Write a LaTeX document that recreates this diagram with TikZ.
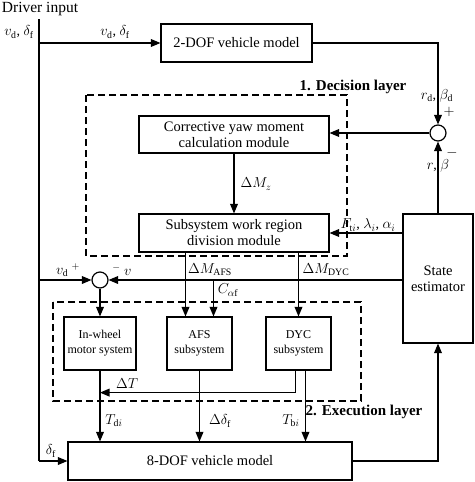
\documentclass[tikz,border=0pt]{standalone}
\usepackage{fontspec}
\setmainfont{Liberation Serif}
\usepackage{tikz}
\usetikzlibrary{arrows}
\usepackage{amsmath}

\begin{document}
\begin{tikzpicture}[x=1pt,y=-1pt,>=triangle 45,line width=1.2pt,
                    font=\fontsize{14}{16}\selectfont]
  \tikzstyle{block}=[draw,rectangle,align=center,inner sep=1pt,
                     font=\fontsize{14.5}{16}\selectfont]
  \tikzstyle{subblock}=[block,font=\fontsize{12}{15}\selectfont]
  \tikzstyle{sum}=[draw,circle,minimum size=16pt,inner sep=0pt]
  \tikzstyle{layer}=[dashed,dash pattern=on 7pt off 4pt,line width=1.3pt]
  \tikzstyle{lbl}=[inner sep=1pt]
  \useasboundingbox (0,0) rectangle (474,482);

  % blocks
  \node[block,minimum width=151pt,minimum height=38pt] (twodof) at (236.5,43) {2-DOF vehicle model};
  \node[block,minimum width=190pt,minimum height=37pt] (corr) at (234,134.5) {Corrective yaw moment\\calculation module};
  \node[block,minimum width=190pt,minimum height=38pt] (subsys) at (234,233) {Subsystem work region\\division module};
  \node[block,minimum width=70pt,minimum height=129pt] (state) at (438,278.5) {State\\estimator};
  \node[subblock,minimum width=72pt,minimum height=53pt] (inwheel) at (100,343.5) {In-wheel\\motor system};
  \node[subblock,minimum width=65pt,minimum height=53pt] (afs) at (199.5,343.5) {AFS\\subsystem};
  \node[subblock,minimum width=65pt,minimum height=53pt] (dyc) at (298.5,343.5) {DYC\\subsystem};
  \node[block,minimum width=284pt,minimum height=38pt] (eightdof) at (210,461) {8-DOF vehicle model};
  \node[sum] (sum1) at (438,133) {};
  \node[sum] (sum2) at (100,280) {};

  % layers
  \draw[layer] (86,95) rectangle (347,256);
  \draw[layer] (53,302) rectangle (361,401);
  \node[font=\bfseries\fontsize{15}{17}\selectfont] (declayer) at (353,87) {1. Decision layer};
  \node[font=\bfseries\fontsize{15}{17}\selectfont] (exelayer) at (364,412) {2. Execution layer};

  % driver input
  \node[inner sep=0pt,font=\fontsize{15.5}{18}\selectfont] (driver) at (40,9) {Driver input};
  \coordinate (drv) at (39,19);
  \coordinate (drvb) at (39,461);
  \draw (drv) -- (drvb);
  \draw[->] (drvb) -- (eightdof.west);
  \draw[->] (drv |- twodof.west) -- (twodof.west);
  \draw[->] (drv |- sum2) -- (sum2.west);

  % decision layer connections
  \draw[->] (twodof.east) -| (sum1.north);
  \draw[->] (sum1.west) -- (sum1.west -| corr.east);
  \draw[->] (state.north -| sum1) -- (sum1.south);
  \draw[->] (corr.south) -- (subsys.north);
  \draw[->] (subsys.east -| state.west) -- (subsys.east);

  % to execution layer
  \coordinate (afsin) at ([xshift=-14pt]afs.north);
  \coordinate (cafin) at ([xshift=14pt]afs.north);
  \draw[->] (afsin |- subsys.south) -- (afsin);
  \draw[->] (dyc.north |- subsys.south) -- (dyc.north);
  \draw[->] (state.west |- sum2) -- (sum2.east);
  \draw[->] (cafin |- sum2) -- (cafin);
  \draw[->] (sum2.south) -- (inwheel.north);

  % execution layer outputs
  \coordinate (dycout) at ([xshift=7pt]dyc.south);
  \coordinate (dyct) at ([xshift=-3pt]dyc.south);
  \coordinate (dT) at ([yshift=-22pt]inwheel.south);
  \draw[->] (dyct) |- (dT);
  \draw[->] (inwheel.south) -- (inwheel.south |- eightdof.north);
  \draw[->] (afs.south) -- (afs.south |- eightdof.north);
  \draw[->] (dycout) -- (dycout |- eightdof.north);
  \draw[->] (eightdof.east) -| (state.south);

  % labels
  \node[lbl] at (19,32) {$v_\mathrm{d}$, $\delta_\mathrm{f}$};
  \node[lbl] at (115,32) {$v_\mathrm{d}$, $\delta_\mathrm{f}$};
  \node[lbl] at (437,96) {$r_\mathrm{d}$, $\beta_\mathrm{d}$};
  \node[lbl] at (449,112) {$+$};
  \node[lbl] at (438,166) {$r$, $\beta$};
  \node[lbl] at (452,153) {$-$};
  \node[lbl] at (256,184) {$\Delta M_z$};
  \node[lbl] at (368,225) {$F_{\mathrm{t}i}$, $\lambda_i$, $\alpha_i$};
  \node[lbl] at (210,270) {$\Delta M_\mathrm{AFS}$};
  \node[lbl] at (326,270) {$\Delta M_\mathrm{DYC}$};
  \node[lbl] at (228,290) {$C_{\alpha\mathrm{f}}$};
  \node[lbl] at (68,270) {$v_\mathrm{d}$ $^+$};
  \node[lbl] at (122,270) {$^-$ $v$};
  \node[lbl] at (127,384) {$\Delta T$};
  \node[lbl] at (114,421) {$T_{\mathrm{d}i}$};
  \node[lbl] at (220,421) {$\Delta\delta_\mathrm{f}$};
  \node[lbl] at (291,421) {$T_{\mathrm{b}i}$};
  \node[lbl] at (51,451) {$\delta_\mathrm{f}$};
\end{tikzpicture}
\end{document}
